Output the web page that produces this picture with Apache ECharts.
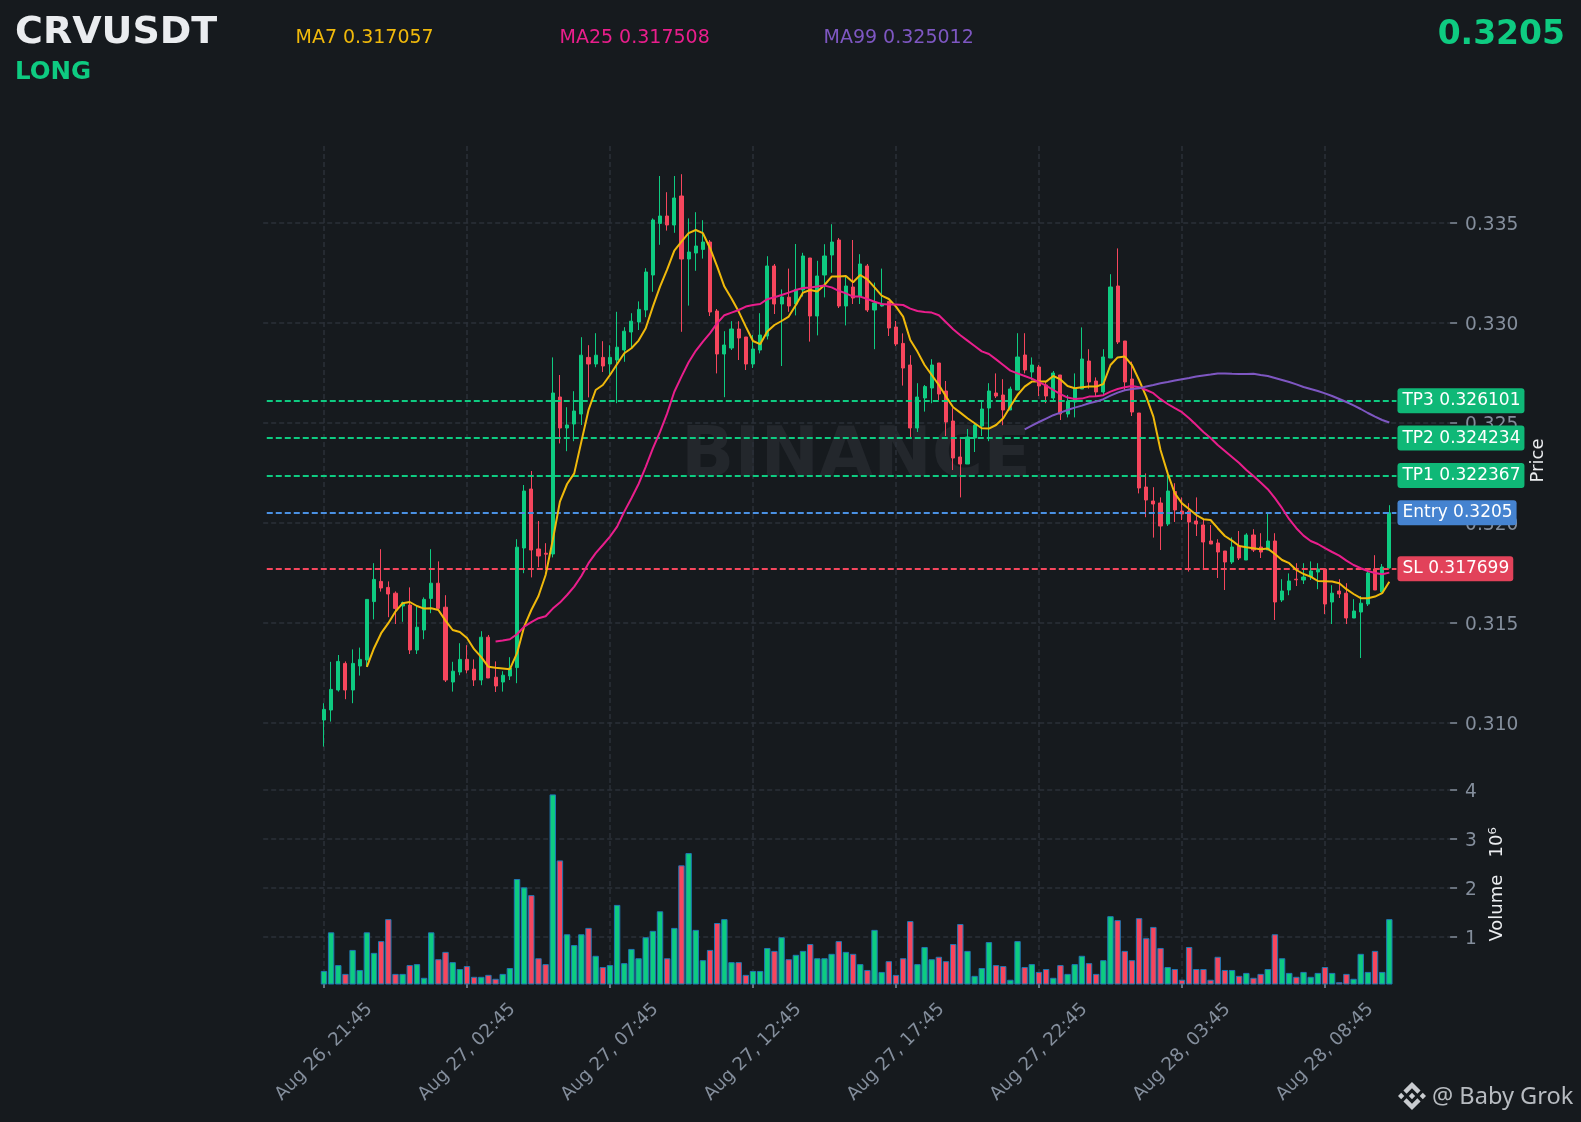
<!DOCTYPE html>
<html><head><meta charset="utf-8">
<style>html,body{margin:0;padding:0;background:#161a1e}#c{width:1581px;height:1122px}</style>
<script src="https://cdn.jsdelivr.net/npm/echarts@6/dist/echarts.min.js"></script>
</head><body><div id="c"></div>
<script>
const tickLabels=['Aug 26, 21:45','Aug 27, 02:45','Aug 27, 07:45','Aug 27, 12:45','Aug 27, 17:45','Aug 27, 22:45','Aug 28, 03:45','Aug 28, 08:45'];
const priceTicks=[0.310,0.315,0.320,0.325,0.330,0.335];
const volumeTicks=[1,2,3,4];
const opens=[
.31014,.31064,.31164,.31297,.31164,.31284,.31314,.31606,.31707,.31677,
.31648,.31584,.31589,.31364,.31464,.31622,.31698,.31578,.31204,.31254,
.31317,.31268,.31214,.31428,.31228,.31204,.31234,.31276,.31874,.32169,
.31869,.31848,.31844,.32629,.32474,.32494,.32544,.32827,.32794,.32827,
.32794,.32814,.32864,.32954,.33004,.33064,.33239,.33497,.33534,.33489,
.33634,.33319,.33349,.33367,.33404,.33059,.32844,.32874,.32969,.32929,
.32794,.32864,.32934,.33284,.33094,.33128,.33094,.33164,.33324,.33034,
.33239,.33339,.33414,.33084,.33179,.33131,.33284,.33064,.33084,.33107,
.32979,.32897,.32789,.32474,.32624,.32674,.32799,.32659,.32509,.32329,
.32294,.32424,.32484,.32574,.32649,.32639,.32564,.32664,.32839,.32754,
.32779,.32689,.32624,.32739,.32544,.32604,.32669,.32809,.32709,.32654,
.32824,.33184,.32909,.32719,.32549,.32179,.32109,.32099,.31994,.32156,
.32059,.32058,.32009,.31989,.31909,.31899,.31859,.31804,.31884,.31814,
.31939,.31879,.31864,.31909,.31614,.31664,.31718,.31714,.31729,.31754,
.31769,.31604,.31659,.31648,.31524,.31554,.31594,.31769,.31654,.31774];
const closes=[
.31067,.31167,.31307,.31164,.31297,.31317,.31617,.31717,.31674,.31644,
.31572,.31601,.31364,.31478,.31617,.31698,.31572,.31214,.31258,.31317,
.31264,.31214,.31428,.31224,.31184,.31238,.31274,.31878,.32159,.31864,
.31834,.31843,.32649,.32474,.32489,.32559,.32838,.32794,.32838,.32784,
.32827,.32878,.32958,.33008,.33067,.33254,.33514,.33534,.33489,.33624,
.33319,.33354,.33384,.33404,.33054,.32844,.32889,.32969,.32924,.32794,
.32869,.32939,.33284,.33094,.33129,.33084,.33167,.33334,.33034,.33234,
.33334,.33404,.33084,.33184,.33124,.33294,.33064,.33099,.33094,.32974,
.32894,.32774,.32474,.32629,.32681,.32789,.32644,.32504,.32324,.32294,
.32429,.32489,.32569,.32659,.32634,.32564,.32669,.32829,.32764,.32789,
.32684,.32634,.32749,.32544,.32609,.32669,.32819,.32704,.32654,.32829,
.33179,.32904,.32704,.32554,.32174,.32114,.32094,.31984,.32159,.32064,
.32044,.32004,.31994,.31904,.31894,.31854,.31804,.31879,.31824,.31939,
.31864,.31854,.31909,.31604,.31659,.31709,.31715,.31729,.31759,.31769,
.31594,.31648,.31644,.31524,.31559,.31598,.31749,.31664,.31779,.3205];
const lows=[
.30881,.31006,.31156,.31118,.31098,.31236,.31279,.31517,.31656,.31528,
.31494,.31505,.31344,.31344,.31418,.31548,.31572,.31204,.31156,.31238,
.31247,.31184,.31188,.31224,.31154,.31156,.31214,.31198,.31748,.31727,
.31778,.31764,.31827,.32397,.32358,.32408,.32489,.32627,.32778,.32754,
.32739,.32598,.32805,.32878,.32964,.33028,.33155,.33390,.33461,.33450,
.32955,.33086,.33260,.33321,.33034,.32747,.32628,.32864,.32814,.32764,
.32774,.32847,.32917,.33044,.32784,.33055,.33037,.33131,.32906,.32937,
.33127,.33250,.33074,.32987,.33094,.33094,.33054,.32868,.33081,.32934,
.32884,.32686,.32428,.32454,.32556,.32598,.32614,.32434,.32264,.32127,
.32294,.32354,.32434,.32408,.32624,.32488,.32564,.32664,.32747,.32714,
.32634,.32598,.32614,.32514,.32527,.32527,.32669,.32671,.32634,.32644,
.32824,.32894,.32664,.32534,.32147,.32028,.31926,.31864,.31984,.32004,
.32014,.31756,.31934,.31771,.31894,.31724,.31664,.31794,.31814,.31814,
.31854,.31824,.31864,.31514,.31604,.31638,.31684,.31694,.31714,.31668,
.31544,.31494,.31624,.31494,.31524,.31324,.31584,.31664,.31644,.31771];
const highs=[
.31098,.31305,.31339,.31307,.31367,.31376,.31619,.31798,.31868,.31707,
.31657,.31606,.31677,.31584,.31627,.31868,.31807,.31638,.31305,.31398,
.31388,.31317,.31458,.31439,.31307,.31258,.31328,.31918,.32189,.32259,
.32009,.31898,.32827,.32739,.32578,.32658,.32928,.32888,.32948,.32908,
.32888,.33055,.32978,.33048,.33107,.33273,.33522,.33734,.33653,.33734,
.33743,.33522,.33553,.33513,.33414,.33069,.32958,.33008,.33008,.32929,
.32939,.33048,.33333,.33294,.33167,.33271,.33394,.33350,.33324,.33310,
.33393,.33493,.33424,.33239,.33414,.33343,.33294,.33201,.33271,.33107,
.33009,.32947,.32838,.32698,.32689,.32818,.32799,.32709,.32573,.32418,
.32469,.32499,.32607,.32698,.32747,.32718,.32681,.32948,.32948,.32827,
.32789,.32709,.32759,.32739,.32639,.32747,.32977,.32868,.32727,.32868,
.33243,.33372,.32909,.32806,.32549,.32247,.32178,.32127,.32234,.32198,
.32127,.32098,.32127,.32014,.31989,.31918,.31859,.31927,.31959,.31948,
.31968,.31948,.32048,.31948,.31718,.31747,.31798,.31798,.31807,.31798,
.31769,.31688,.31718,.31698,.31618,.31634,.31771,.31838,.31794,.32088];
const volumes=[
.30,1.09,.42,.24,.73,.32,1.09,.67,.91,1.36,
.24,.24,.42,.44,.16,1.09,.54,.69,.48,.34,
.40,.18,.18,.22,.14,.24,.36,2.18,2.01,1.85,
.56,.44,3.91,2.56,1.05,.83,1.05,1.18,.61,.38,
.42,1.65,.46,.75,.56,.99,1.12,1.52,.56,1.18,
2.46,2.71,1.14,.52,.73,1.28,1.36,.48,.48,.22,
.30,.30,.77,.71,.99,.54,.63,.71,.85,.56,
.56,.65,.91,.69,.65,.44,.32,1.14,.28,.50,
.22,.56,1.32,.44,.79,.54,.59,.50,.85,1.26,
.71,.20,.36,.89,.42,.40,.12,.91,.38,.44,
.28,.34,.16,.42,.24,.44,.61,.46,.24,.52,
1.42,1.34,.71,.52,1.38,.97,1.20,.77,.38,.34,
.12,.79,.34,.34,.12,.59,.32,.32,.20,.26,
.16,.24,.34,1.05,.56,.26,.18,.28,.18,.26,
.38,.26,.07,.24,.14,.65,.28,.71,.28,1.36];
const ma7=[ // from candle 6
.31280,.31373,.31448,.31498,.31556,.31598,.31604,.31584,.31571,.31573,
.31564,.31511,.31464,.31454,.31424,.31368,.31328,.31280,.31275,.31272,
.31268,.31348,.31481,.31564,.31634,.31739,.31914,.32106,.32194,.32247,
.32406,.32564,.32664,.32689,.32739,.32794,.32848,.32873,.32911,.32973,
.33081,.33181,.33267,.33361,.33406,.33448,.33464,.33448,.33373,.33281,
.33181,.33122,.33056,.32981,.32909,.32893,.32956,.32989,.33009,.33031,
.33089,.33151,.33164,.33156,.33189,.33231,.33231,.33234,.33203,.33239,
.33217,.33177,.33136,.33119,.33081,.33031,.32914,.32856,.32789,.32739,
.32689,.32631,.32578,.32551,.32523,.32498,.32473,.32471,.32489,.32523,
.32581,.32639,.32681,.32706,.32706,.32706,.32734,.32717,.32684,.32673,
.32678,.32681,.32681,.32694,.32789,.32827,.32831,.32789,.32714,.32631,
.32531,.32364,.32247,.32147,.32097,.32069,.32039,.32018,.32014,.31973,
.31934,.31911,.31884,.31878,.31873,.31868,.31871,.31844,.31814,.31798,
.31764,.31744,.31731,.31709,.31708,.31706,.31698,.31668,.31644,.31623,
.31623,.31631,.31648,.317057];
const ma25=[ // from candle 24
.31406,.31411,.31418,.31443,.31481,.31503,.31523,.31533,.31571,.31601,
.31639,.31681,.31734,.31798,.31848,.31889,.31931,.31981,.32056,.32123,
.32194,.32280,.32372,.32455,.32547,.32655,.32731,.32803,.32860,.32906,
.32948,.32998,.33038,.33051,.33064,.33081,.33089,.33094,.33118,.33128,
.33139,.33151,.33164,.33174,.33177,.33181,.33186,.33177,.33160,.33147,
.33131,.33131,.33119,.33105,.33094,.33091,.33091,.33089,.33071,.33059,
.33054,.33051,.33038,.33003,.32968,.32938,.32911,.32884,.32857,.32844,
.32817,.32789,.32761,.32747,.32734,.32721,.32703,.32686,.32664,.32643,
.32626,.32619,.32621,.32631,.32633,.32638,.32656,.32669,.32678,.32684,
.32678,.32664,.32648,.32618,.32594,.32573,.32553,.32523,.32489,.32454,
.32424,.32389,.32359,.32329,.32299,.32264,.32234,.32201,.32168,.32123,
.32073,.32018,.31973,.31936,.31909,.31894,.31873,.31854,.31836,.31811,
.31789,.31773,.31759,.31749,.31743,.317508];
const ma99=[ // from candle 98
.32467,.32486,.32504,.32521,.32538,.32551,.32564,.32576,.32586,.32598,
.32606,.32618,.32636,.32651,.32663,.32669,.32673,.32681,.32689,.32698,
.32704,.32711,.32718,.32724,.32731,.32736,.32741,.32747,.32747,.32745,
.32744,.32744,.32745,.32739,.32734,.32724,.32714,.32704,.32692,.32679,
.32669,.32659,.32647,.32634,.32619,.32604,.32587,.32569,.32549,.32531,
.32514,.325012];
const levels=[
 {name:'TP3',value:0.326101,color:'#0ecb81',tag:'#0fb877'},
 {name:'TP2',value:0.324234,color:'#0ecb81',tag:'#0fb877'},
 {name:'TP1',value:0.322367,color:'#0ecb81',tag:'#0fb877'},
 {name:'Entry',value:0.3205,color:'#4a90e2',tag:'#4583d0',text:'0.3205'},
 {name:'SL',value:0.317699,color:'#f6465d',tag:'#e2425a'}];

const FONT='DejaVu Sans',GREEN='#0ecb81',RED='#f6465d',BG='#161a1e',GRID='#2b3139',MUTED='#848e9c';
const PAD=8,N=opens.length,TICK_STEP=20,total=N+2*PAD;
const cats=Array.from({length:total},(_,j)=>{const i=j-PAD;return i>=0&&i<N&&i%TICK_STEP===0?tickLabels[i/TICK_STEP]:''});
const isTick=(idx,val)=>val!=='';
const padL=Array(PAD).fill('-'),padR=Array(PAD).fill('-');
const withLead=(arr)=>padL.concat(Array(N-arr.length).fill('-'),arr,padR);
const candles=Array(PAD).fill(0).map(()=>['-','-','-','-']).concat(opens.map((o,i)=>[o,closes[i],lows[i],highs[i]]),Array(PAD).fill(0).map(()=>['-','-','-','-']));
const volBars=padL.concat(volumes.map((v,i)=>({value:v,itemStyle:{color:closes[i]>=opens[i]?GREEN:RED}})),padR);
const dash={type:[5,3],width:1.5,color:GRID};
const xBase=(g)=>({type:'category',gridIndex:g,data:cats,boundaryGap:true,axisLine:{show:false},
 splitLine:{show:true,interval:isTick,alignWithLabel:true,lineStyle:dash}});
const maLine=(name,arr,color)=>({type:'line',name,data:withLead(arr),xAxisIndex:0,yAxisIndex:0,showSymbol:false,symbol:'none',
 lineStyle:{color,width:2},itemStyle:{color},connectNulls:false,silent:true,z:4});
const text=(t,x,y,size,color,weight,align)=>({type:'text',x,y,silent:true,z:10,
 style:{text:t,fill:color,fontFamily:FONT,fontSize:size,fontWeight:weight||'normal',textAlign:align||'left',textVerticalAlign:'middle'}});
const logoParts=[
 [[12,9.28],[14.7,11.98],[12,14.7],[9.27,12]],
 [[2.72,9.28],[5.41,12],[2.72,14.69],[0,12]],
 [[21.26,9.28],[24,12],[21.28,14.72],[18.57,12]],
 [[11.99,0],[19.34,7.34],[16.62,10.06],[11.99,5.42],[7.35,10.08],[4.63,7.36]],
 [[16.62,13.92],[19.34,16.64],[11.99,23.99],[4.64,16.64],[7.35,13.92],[11.99,18.58]]];
const tickRich={t:{color:MUTED,fontFamily:FONT,fontSize:18.6,padding:[5,0,0,0]}};

const chart=echarts.init(document.getElementById('c'),null,{renderer:'canvas'});
chart.setOption({
 animation:false,backgroundColor:BG,
 grid:[{left:263.2,width:1186.9,top:146,height:639},{left:263.2,width:1186.9,top:785,height:199}],
 xAxis:[
  Object.assign(xBase(0),{axisTick:{show:false},axisLabel:{show:false}}),
  Object.assign(xBase(1),{axisTick:{show:true,interval:isTick,alignWithLabel:true,length:4,lineStyle:{color:MUTED,width:1.5}},
   axisLabel:{show:true,interval:isTick,rotate:45,align:'center',verticalAlign:'middle',margin:68,color:MUTED,fontFamily:FONT,fontSize:18.3,hideOverlap:false}})
 ],
 yAxis:[
  {type:'value',gridIndex:0,position:'right',min:0.30689,max:0.33884,scale:true,
   name:'Price',nameLocation:'middle',nameRotate:90,nameGap:75,nameTextStyle:{color:'#eaecef',fontFamily:FONT,fontSize:18,padding:[0,0,0,10]},
   axisLine:{show:false},axisTick:{show:true,length:7,customValues:priceTicks,lineStyle:{color:MUTED,width:1.5}},
   axisLabel:{customValues:priceTicks,margin:15,color:MUTED,fontFamily:FONT,fontSize:18.6,rich:tickRich,formatter:v=>'{t|'+v.toFixed(3)+'}'},
   splitLine:{show:true,lineStyle:dash}},
  {type:'value',gridIndex:1,position:'right',min:0.033,max:4.102,
   name:'Volume   10⁶',nameLocation:'middle',nameRotate:90,nameGap:38,nameTextStyle:{color:'#eaecef',fontFamily:FONT,fontSize:18},
   axisLine:{show:false},axisTick:{show:true,length:7,customValues:volumeTicks,lineStyle:{color:MUTED,width:1.5}},
   axisLabel:{customValues:volumeTicks,margin:15,color:MUTED,fontFamily:FONT,fontSize:18.6,rich:tickRich,formatter:v=>'{t|'+Math.round(v)+'}'},
   splitLine:{show:true,lineStyle:dash}}
 ],
 graphic:[
  {type:'text',x:856,y:458,silent:true,z:0,style:{text:'BINANCE',fill:'#23272c',fontFamily:FONT,fontWeight:'bold',fontSize:70,textAlign:'center',textVerticalAlign:'middle'}},
  text('CRVUSDT',15,33,38,'#eaecef','bold'),
  text('LONG',15,72.5,24.5,GREEN,'bold'),
  text('MA7 0.317057',295.5,38.5,19,'#f0b90b'),
  text('MA25 0.317508',559.5,38.5,19,'#e91e8c'),
  text('MA99 0.325012',823.5,38.5,19,'#7e57c2'),
  text('0.3205',1565,35,33,GREEN,'bold','right'),
  {type:'group',x:1398,y:1082,scaleX:28/24,scaleY:28/24,silent:true,z:10,children:logoParts.map(points=>({type:'polygon',shape:{points},style:{fill:'#c9ccd0'},silent:true,z:10}))},
  {type:'text',x:1432,y:1097,silent:true,z:10,style:{text:'@ Baby Grok',fill:'#b7bbc0',fontFamily:'Noto Sans',fontSize:23.6,textAlign:'left',textVerticalAlign:'middle'}}
 ],
 series:[
  {type:'candlestick',name:'Price',xAxisIndex:0,yAxisIndex:0,data:candles,barWidth:3.6,z:2,silent:true,
   itemStyle:{color:GREEN,color0:RED,borderColor:GREEN,borderColor0:RED,borderWidth:1},
   markLine:{silent:true,symbol:'none',z:3,animation:false,
    data:levels.map(l=>[
     {xAxis:0,yAxis:l.value,lineStyle:{color:l.color,type:[6,3],width:1.8},
      label:{show:true,position:'end',distance:1,formatter:l.name+' '+(l.text||l.value),color:'#fff',backgroundColor:l.tag,borderRadius:3,padding:[4,4,4,5],fontFamily:FONT,fontSize:17}},
     {xAxis:158,yAxis:l.value}])}},
  maLine('MA7',ma7,'#f0b90b'),
  maLine('MA25',ma25,'#e91e8c'),
  maLine('MA99',ma99,'#7e57c2'),
  {type:'bar',name:'Volume',xAxisIndex:1,yAxisIndex:1,data:volBars,barWidth:6.4,silent:true,
   itemStyle:{borderColor:'#1f77b4',borderWidth:1}}
 ]
});
</script></body></html>
